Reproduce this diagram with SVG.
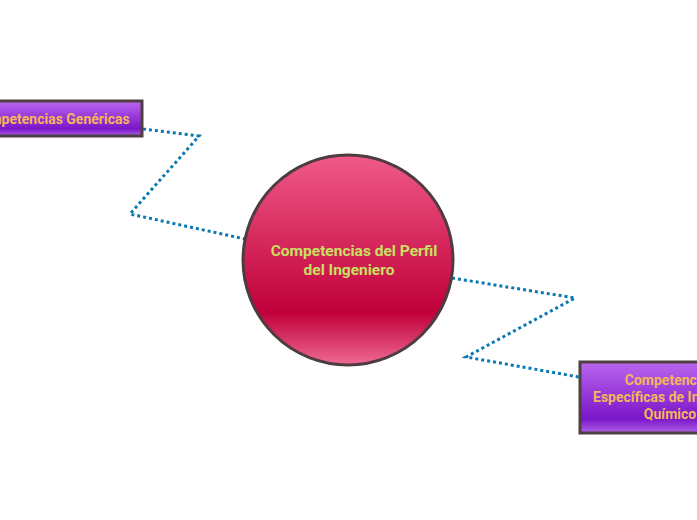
<svg xmlns="http://www.w3.org/2000/svg" width="697" height="520" viewBox="0 0 697 520">
<defs>
<linearGradient id="cg" x1="0" y1="0" x2="0" y2="1">
<stop offset="0" stop-color="#ef5a88"/><stop offset="0.75" stop-color="#c0003a"/><stop offset="1" stop-color="#ef6a94"/>
</linearGradient>
<linearGradient id="bg" x1="0" y1="0" x2="0" y2="1">
<stop offset="0" stop-color="#bb66f0"/><stop offset="0.8" stop-color="#7a16c8"/><stop offset="1" stop-color="#b060e8"/>
</linearGradient>
<style>
.c{fill:none;stroke:#0a78b4;stroke-width:3;stroke-dasharray:3 3}
.box{fill:url(#bg);stroke:#4e4040;stroke-width:3}
.bt{font-family:Roboto,"Liberation Sans",sans-serif;font-weight:bold;font-size:14px;fill:#f5b65a;text-anchor:middle}
.ct{font-size:15.5px;fill:#c8e060}
</style>
</defs>
<g id="connectors">
<path class="c" d="M143,129 L199,136 L130,214 L245,239"/>
<path class="c" d="M452,278 L575,298 L466,357 L579,377"/>
</g>
<g id="center">
<circle cx="348" cy="260" r="105" fill="url(#cg)" stroke="#4e3c40" stroke-width="3"/>
<text x="354" y="256" class="bt ct">Competencias del Perfil</text>
<text x="349" y="275" class="bt ct">del Ingeniero</text>
</g>
<g id="genericas">
<rect class="box" x="-40" y="101" width="182" height="35"/>
<text class="bt" x="51" y="124">Competencias Genéricas</text>
</g>
<g id="especificas">
<rect class="box" x="580" y="362" width="180" height="71"/>
<text class="bt" x="670" y="385">Competencias</text>
<text class="bt" x="670" y="402">Específicas de Ingeniero</text>
<text class="bt" x="670" y="419">Químico</text>
</g>
</svg>
